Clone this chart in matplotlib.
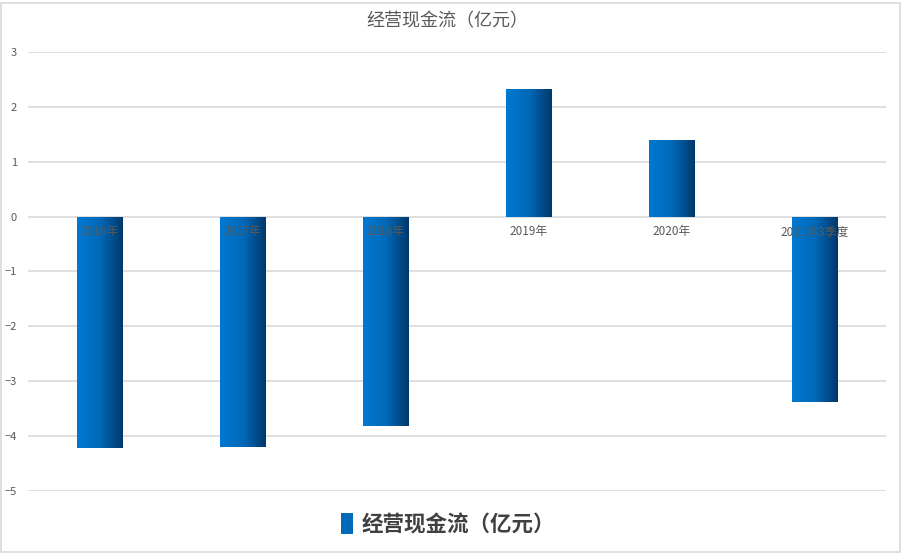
import numpy as np
import matplotlib
matplotlib.use('Agg')
import matplotlib.pyplot as plt
from matplotlib.colors import LinearSegmentedColormap
from matplotlib.patches import Patch, Rectangle

plt.rcParams['font.family'] = ['Noto Sans CJK SC', 'DejaVu Sans']

# data
categories = ['2016年', '2017年', '2018年', '2019年', '2020年', '2021年3季度']
cash_flow = [-4.22, -4.20, -3.81, 2.32, 1.39, -3.38]
yticks = [3, 2, 1, 0, -1, -2, -3, -4, -5]
series_name = '经营现金流（亿元）'
title = '经营现金流（亿元）'

grey = '#595959'
grad = LinearSegmentedColormap.from_list('bar', ['#0079d2', '#0069b8', '#00386a'])

fig = plt.figure(figsize=(9.03, 5.53), dpi=100)
ax = fig.add_axes([0.031, 0.1121, 0.950, 0.7939])

x = np.arange(len(categories))
bars = ax.bar(x, cash_flow, width=0.315, color='none', zorder=2)

# horizontal gradient fill, clipped to each bar
g = np.linspace(0, 1, 256).reshape(1, -1)
for b in bars:
    x0, y0 = b.get_x(), b.get_y()
    w, h = b.get_width(), b.get_height()
    im = ax.imshow(g, cmap=grad, aspect='auto', zorder=2,
                   extent=[x0, x0 + w, min(y0, y0 + h), max(y0, y0 + h)])
    im.set_clip_path(b)

ax.set_xlim(-0.5, len(categories) - 0.5)
ax.set_ylim(-5, 3)
ax.set_yticks(yticks)
ax.yaxis.grid(True, color='#d9d9d9', linewidth=1.2, zorder=0)
ax.set_axisbelow(True)
ax.set_xticks([])
ax.tick_params(axis='y', length=0, labelsize=8, labelcolor=grey, pad=8)
for s in ax.spines.values():
    s.set_visible(False)

# category labels sit just under the zero line
for i, c in enumerate(categories):
    ax.text(i, -0.28, c, ha='center', va='center', fontsize=8.5,
            color=grey, zorder=3)

fig.text(0.495, 0.962, title, ha='center', va='center', fontsize=13, color=grey)

handle = Patch(facecolor='#0069b8', edgecolor='none')
fig.legend([handle], [series_name], loc='center', bbox_to_anchor=(0.496, 0.052),
           frameon=False, handlelength=0.55, handleheight=1.1,
           handletextpad=0.4, labelcolor='#404040',
           prop={'weight': 'bold', 'size': 15.5})

# chart border
fig.patches.append(Rectangle((0.001, 0.002), 0.996, 0.993, transform=fig.transFigure,
                             fill=False, edgecolor='#d9d9d9', linewidth=1.2))

fig.savefig('out.png', dpi=100)
